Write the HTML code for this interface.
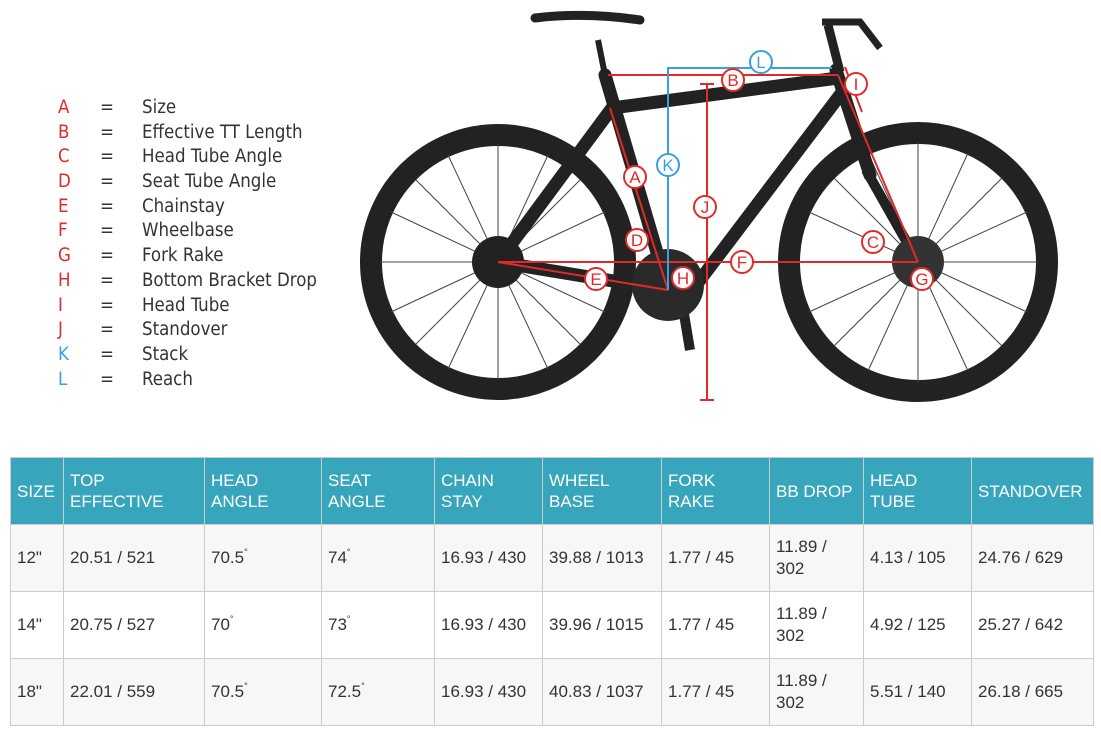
<!DOCTYPE html><html><head><style>
body{margin:0;width:1101px;height:744px;background:#fff;position:relative;overflow:hidden;font-family:"Liberation Sans",sans-serif}
.lg{position:absolute;left:0;top:97px;font-size:18.5px;color:#333;font-family:"DejaVu Sans Condensed","Liberation Sans",sans-serif}
.lg div{height:24.7px;position:relative;width:340px}
.lg span{position:absolute}
.l{left:58px;color:#e02a2a}.e{left:100px}.t{left:142px}
.b .l{color:#3a9fe0}
table{position:absolute;left:10px;top:457px;border-collapse:collapse;font-size:17px;color:#333}
td,th{border:1px solid #ccc;padding:0 6px;text-align:left;vertical-align:middle;font-weight:normal}
th{background:#37a6bd;color:#fff;height:66px;line-height:21px}
td{height:66px;line-height:22px}
tr.g td{background:#f7f7f7}
sup{font-size:9px;vertical-align:baseline;position:relative;top:-8px;line-height:0}
</style></head><body>
<div class="lg">
<div><span class="l">A</span><span class="e">=</span><span class="t">Size</span></div>
<div><span class="l">B</span><span class="e">=</span><span class="t">Effective TT Length</span></div>
<div><span class="l">C</span><span class="e">=</span><span class="t">Head Tube Angle</span></div>
<div><span class="l">D</span><span class="e">=</span><span class="t">Seat Tube Angle</span></div>
<div><span class="l">E</span><span class="e">=</span><span class="t">Chainstay</span></div>
<div><span class="l">F</span><span class="e">=</span><span class="t">Wheelbase</span></div>
<div><span class="l">G</span><span class="e">=</span><span class="t">Fork Rake</span></div>
<div><span class="l">H</span><span class="e">=</span><span class="t">Bottom Bracket Drop</span></div>
<div><span class="l">I</span><span class="e">=</span><span class="t">Head Tube</span></div>
<div><span class="l">J</span><span class="e">=</span><span class="t">Standover</span></div>
<div class="b"><span class="l">K</span><span class="e">=</span><span class="t">Stack</span></div>
<div class="b"><span class="l">L</span><span class="e">=</span><span class="t">Reach</span></div>
</div>
<svg width="1101" height="420" style="position:absolute;left:0;top:0" font-family="Liberation Sans" font-size="17">
<g stroke="#222" fill="none">
<circle cx="498" cy="262" r="127" stroke-width="22"/>
<circle cx="918" cy="262" r="129" stroke-width="22"/>
<g stroke-width="1" stroke="#444">
<path d="M498 262 L498 144 M498 262 L580 180 M498 262 L616 262 M498 262 L580 344 M498 262 L498 380 M498 262 L416 344 M498 262 L380 262 M498 262 L416 180 M498 262 L548 155 M498 262 L605 212 M498 262 L605 312 M498 262 L548 369 M498 262 L448 369 M498 262 L391 312 M498 262 L391 212 M498 262 L448 155"/>
<path d="M918 262 L918 142 M918 262 L1002 178 M918 262 L1038 262 M918 262 L1002 346 M918 262 L918 382 M918 262 L834 346 M918 262 L798 262 M918 262 L834 178 M918 262 L968 153 M918 262 L1027 212 M918 262 L1027 312 M918 262 L968 371 M918 262 L868 371 M918 262 L809 312 M918 262 L809 212 M918 262 L868 153"/>
</g>
<g stroke-width="13" stroke-linecap="round">
<path d="M605 75 L668 290"/><path d="M612 108 L838 78"/><path d="M840 95 L700 280"/>
<path d="M612 108 L498 262"/><path d="M498 262 L668 290"/>
<path d="M836 70 L870 175"/></g>
<path d="M866 170 L918 262" stroke-width="10"/>
<path d="M828 25 L840 72" stroke-width="9"/><path d="M822 22 L860 22 L880 48" stroke-width="7"/>
<path d="M598 40 L605 75" stroke-width="6"/>
<path d="M535 18 Q585 12 640 20" stroke-width="9" stroke-linecap="round"/>
<path d="M680 290 L690 350" stroke-width="10"/>
</g>
<circle cx="498" cy="262" r="26" fill="#222"/><circle cx="668" cy="285" r="36" fill="#2a2a2a"/>
<circle cx="918" cy="262" r="26" fill="#333"/>
<g stroke="#e02a2a" stroke-width="2" fill="none">
<path d="M608 75 L838 75"/><path d="M610 108 L668 290"/><path d="M498 262 L918 262"/><path d="M498 262 L668 290"/>
<path d="M838 75 L918 262"/><path d="M707 84 L707 400 M700 84 L714 84 M700 400 L714 400"/><path d="M845 67 L862 112"/>
</g>
<g stroke="#3a9fe0" stroke-width="2" fill="none"><path d="M668 290 L668 68 L832 68"/></g>
<g fill="#fff" stroke="#e02a2a" stroke-width="2">
<circle cx="733" cy="80" r="11"/><circle cx="856" cy="84" r="11"/><circle cx="635" cy="177" r="11"/><circle cx="705" cy="207" r="11"/>
<circle cx="637" cy="240" r="11"/><circle cx="742" cy="262" r="11"/><circle cx="873" cy="242" r="11"/><circle cx="596" cy="279" r="11"/>
<circle cx="683" cy="278" r="11"/><circle cx="922" cy="279" r="11"/></g>
<g fill="#fff" stroke="#3a9fe0" stroke-width="2"><circle cx="761" cy="62" r="11"/><circle cx="668" cy="165" r="11"/></g>
<g fill="#e02a2a" text-anchor="middle">
<text x="733" y="86">B</text><text x="856" y="90">I</text><text x="635" y="183">A</text><text x="705" y="213">J</text>
<text x="637" y="246">D</text><text x="742" y="268">F</text><text x="873" y="248">C</text><text x="596" y="285">E</text>
<text x="683" y="284">H</text><text x="922" y="285">G</text></g>
<g fill="#3a9fe0" text-anchor="middle"><text x="761" y="68">L</text><text x="668" y="171">K</text></g>
</svg>
<table>
<tr><th style="width:40px">SIZE</th><th style="width:128px">TOP<br>EFFECTIVE</th><th style="width:104px">HEAD<br>ANGLE</th><th style="width:100px">SEAT<br>ANGLE</th><th style="width:95px">CHAIN<br>STAY</th><th style="width:106px">WHEEL<br>BASE</th><th style="width:95px">FORK<br>RAKE</th><th style="width:81px">BB DROP</th><th style="width:95px">HEAD<br>TUBE</th><th style="width:109px">STANDOVER</th></tr>
<tr class="g"><td>12"</td><td>20.51 / 521</td><td>70.5<sup>°</sup></td><td>74<sup>°</sup></td><td>16.93 / 430</td><td>39.88 / 1013</td><td>1.77 / 45</td><td>11.89 /<br>302</td><td>4.13 / 105</td><td>24.76 / 629</td></tr>
<tr><td>14"</td><td>20.75 / 527</td><td>70<sup>°</sup></td><td>73<sup>°</sup></td><td>16.93 / 430</td><td>39.96 / 1015</td><td>1.77 / 45</td><td>11.89 /<br>302</td><td>4.92 / 125</td><td>25.27 / 642</td></tr>
<tr class="g"><td>18"</td><td>22.01 / 559</td><td>70.5<sup>°</sup></td><td>72.5<sup>°</sup></td><td>16.93 / 430</td><td>40.83 / 1037</td><td>1.77 / 45</td><td>11.89 /<br>302</td><td>5.51 / 140</td><td>26.18 / 665</td></tr>
</table>
</body></html>
